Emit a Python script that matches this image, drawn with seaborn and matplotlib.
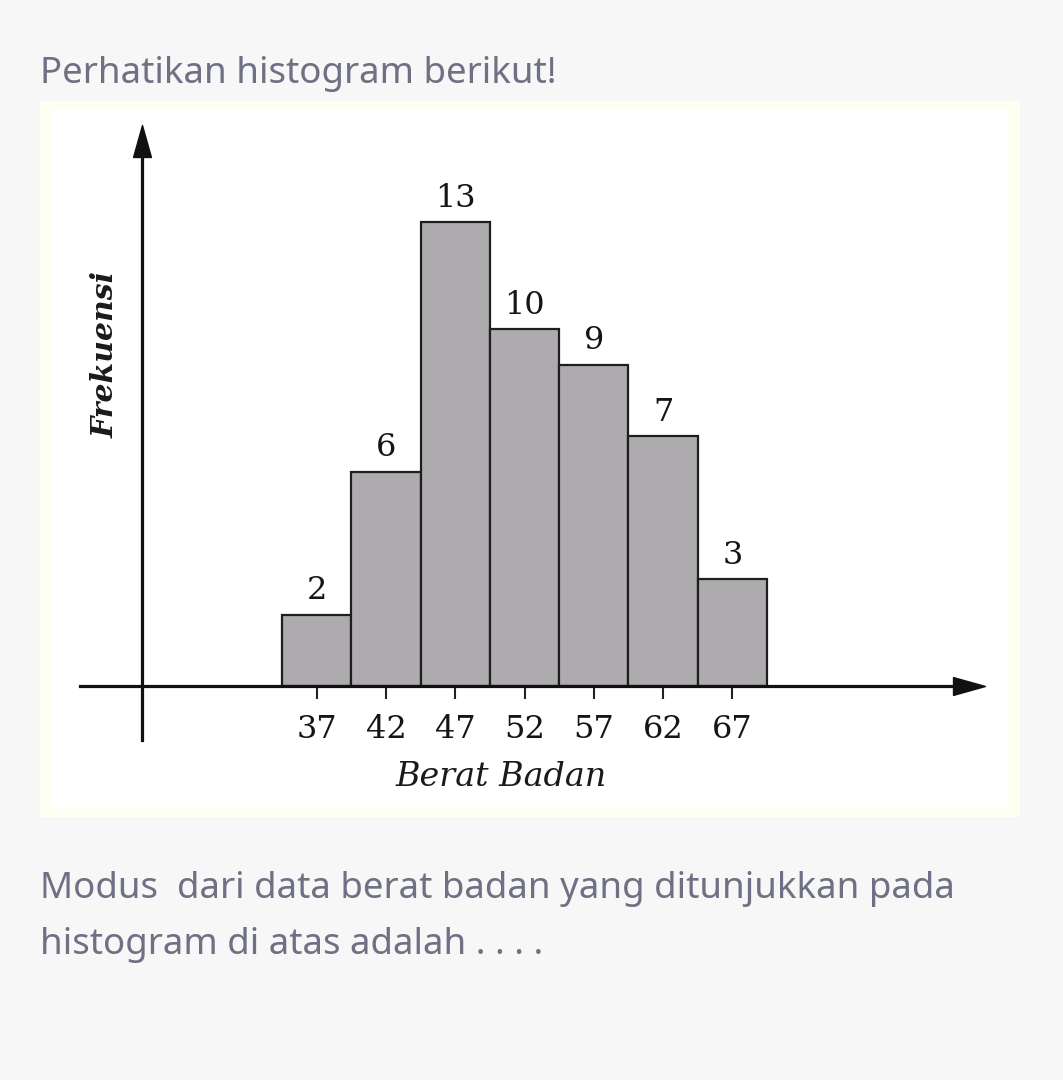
import numpy as np
import pandas as pd
import matplotlib
matplotlib.use("Agg")
import matplotlib.pyplot as plt
from matplotlib.patches import Rectangle
import seaborn as sns

# ---- data ----
midpoints = [37, 42, 47, 52, 57, 62, 67]
frequencies = [2, 6, 13, 10, 9, 7, 3]
tick_labels = ["37", "42", "47", "52", "57", "62", "67"]
bar_labels = ["2", "6", "13", "10", "9", "7", "3"]
class_width = 5

title_text = "Perhatikan histogram berikut!"
question_lines = ["Modus  dari data berat badan yang ditunjukkan pada",
                  "histogram di atas adalah . . . ."]
xlabel = "Berat Badan"
ylabel = "Frekuensi"

df = pd.DataFrame({"berat": midpoints, "frekuensi": frequencies})
edges = [m - class_width / 2 for m in midpoints] + [midpoints[-1] + class_width / 2]

sns.set_theme(style="white")
plt.rcParams["font.family"] = ["DejaVu Serif"]

W, H = 1063, 1080
fig = plt.figure(figsize=(W / 100, H / 100), dpi=100, facecolor="#f7f7f8")

def fx(px):
    return px / W

def fy(py):
    return 1 - py / H

# panel background (cream border, white inside)
fig.add_artist(Rectangle((fx(40), fy(817)), fx(1020) - fx(40), fy(101) - fy(817),
                         transform=fig.transFigure, facecolor="#fefef2",
                         edgecolor="none", zorder=-2))
fig.add_artist(Rectangle((fx(52), fy(808)), fx(1008) - fx(52), fy(110) - fy(808),
                         transform=fig.transFigure, facecolor="white",
                         edgecolor="none", zorder=-1))

# axes placement
ax_left_px, ax_right_px = 80, 969
ax_bot_px, ax_top_px = 740, 141
ax = fig.add_axes([fx(ax_left_px), fy(ax_bot_px),
                   fx(ax_right_px) - fx(ax_left_px), fy(ax_top_px) - fy(ax_bot_px)])
ax.set_facecolor("none")

sns.histplot(data=df, x="berat", weights="frekuensi", bins=edges, ax=ax,
             color="#aeabae", alpha=1, edgecolor="#1e1e1e", linewidth=1.6)

px_per_unit_x = (767 - 282) / 35.0
px_per_unit_y = 35.7
x0 = edges[0]
xlim = (x0 - (282 - ax_left_px) / px_per_unit_x, x0 + (ax_right_px - 282) / px_per_unit_x)
ylim = (-(ax_bot_px - 686) / px_per_unit_y, (686 - ax_top_px) / px_per_unit_y)
yaxis_x = x0 - (282 - 142) / px_per_unit_x
ax.set_xlim(xlim)
ax.set_ylim(ylim)

for s in ["top", "right"]:
    ax.spines[s].set_visible(False)
ax.spines["left"].set_position(("data", yaxis_x))
ax.spines["bottom"].set_position(("data", 0))
for s in ["left", "bottom"]:
    ax.spines[s].set_color("#111111")
    ax.spines[s].set_linewidth(2.3)
    ax.spines[s].set_zorder(3)

# arrowheads
head = [(-1, -0.56), (1, 0), (-1, 0.56), (-1, -0.56)]
head_up = [(-0.56, -1), (0, 1), (0.56, -1), (-0.56, -1)]
ax.plot(1, 0, marker=head, markersize=23, color="#111111",
        transform=ax.get_yaxis_transform(), clip_on=False, zorder=4)
ax.plot(yaxis_x, 1, marker=head_up, markersize=23, color="#111111",
        transform=ax.get_xaxis_transform(), clip_on=False, zorder=4)

ax.set_yticks([])
ax.set_xticks(midpoints)
ax.set_xticklabels(tick_labels)
ax.tick_params(axis="x", direction="inout", length=19, width=1.5, color="#222222",
               pad=11, labelsize=23, labelcolor="#151515", bottom=True)

ax.bar_label(ax.containers[0], labels=bar_labels, padding=6, fontsize=23,
             color="#151515")

ax.set_xlabel(xlabel, fontsize=24, style="italic", color="#1a1a1a")
ax.xaxis.set_label_coords((501 - ax_left_px) / (ax_right_px - ax_left_px),
                          -(777 - ax_bot_px) / (ax_bot_px - ax_top_px))
ax.xaxis.label.set_va("center")
ax.set_ylabel(ylabel, fontsize=21.5, style="italic", weight="bold", color="#1a1a1a")
ax.yaxis.set_label_coords((105 - ax_left_px) / (ax_right_px - ax_left_px),
                          (ax_bot_px - 355) / (ax_bot_px - ax_top_px))
ax.yaxis.label.set_va("center")

# surrounding texts
txt_color = "#6f7084"
fam = ["Noto Sans", "DejaVu Sans"]
fig.text(fx(40), fy(74), title_text, fontsize=26.4, family=fam,
         color=txt_color, va="center", ha="left")
fig.text(fx(40), fy(889), question_lines[0], fontsize=26.4, family=fam,
         color=txt_color, va="center", ha="left")
fig.text(fx(40), fy(945), question_lines[1], fontsize=26.4, family=fam,
         color=txt_color, va="center", ha="left")

fig.savefig("out.png", dpi=100, facecolor=fig.get_facecolor())
